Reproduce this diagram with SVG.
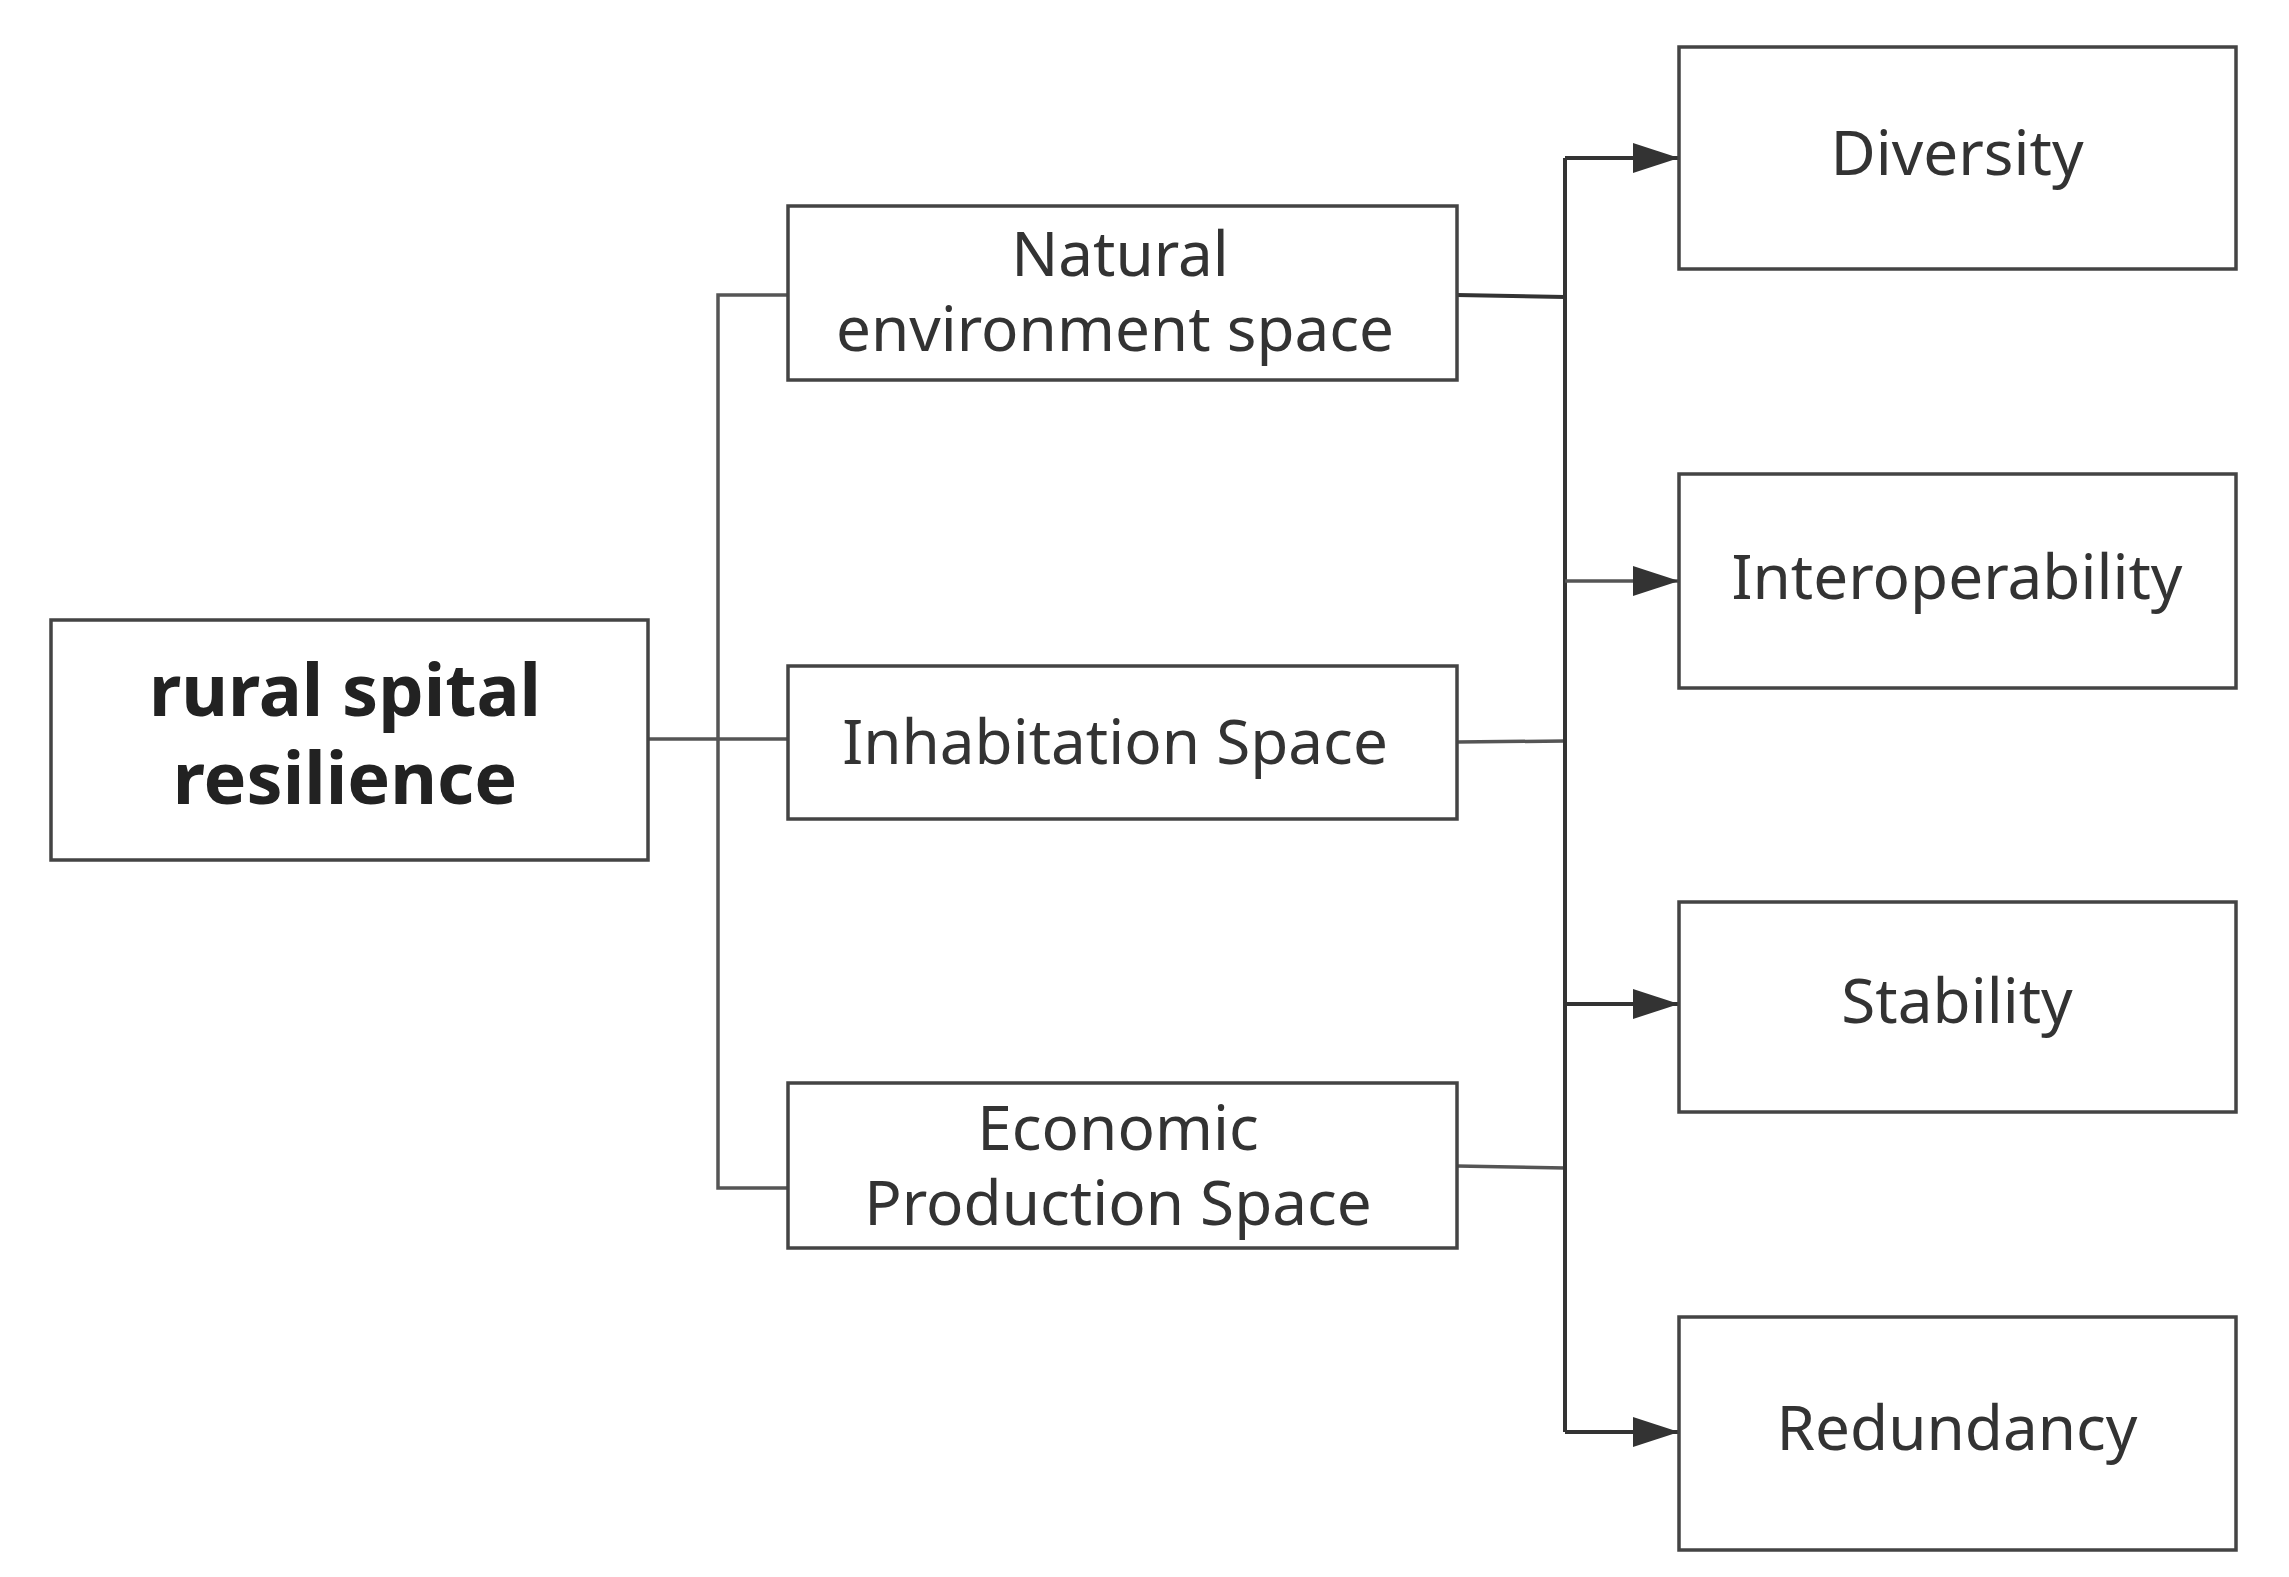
<svg xmlns="http://www.w3.org/2000/svg" width="2289" height="1577" viewBox="0 0 2289 1577">
<style>
.box{fill:#fff;stroke:#444;stroke-width:3.5}
.t{font-family:"Noto Sans","Open Sans",sans-serif;font-size:62px;fill:#333;text-anchor:middle}
.b{font-weight:bold;fill:#222;font-size:72px}
.c{fill:none;stroke:#555;stroke-width:3.5}
.c2{fill:none;stroke:#333;stroke-width:4}
</style>
<defs>
<marker id="arw" markerWidth="46" markerHeight="30" refX="46" refY="15" orient="auto" markerUnits="userSpaceOnUse" viewBox="0 0 46 30">
<path d="M0,0 L46,15 L0,30 z" fill="#333"/>
</marker>
</defs>
<g id="connectors">
<path class="c" d="M648,739 L788,739"/>
<path class="c" d="M788,295 L718,295 L718,1188 L788,1188"/>
<path class="c2" d="M1457,295 L1565,297"/>
<path class="c" d="M1457,742 L1565,741"/>
<path class="c" d="M1457,1166 L1565,1168"/>
<path class="c2" d="M1565,158 L1565,1432"/>
<path class="c2" d="M1565,158 L1679,158" marker-end="url(#arw)"/>
<path class="c" d="M1565,581 L1679,581" marker-end="url(#arw)"/>
<path class="c2" d="M1565,1004 L1679,1004" marker-end="url(#arw)"/>
<path class="c2" d="M1565,1432 L1679,1432" marker-end="url(#arw)"/>
</g>
<g id="root">
<rect class="box" x="51" y="620" width="597" height="240"/>
<text class="t b" x="345" y="716">rural spital</text>
<text class="t b" x="345" y="804">resilience</text>
</g>
<g id="natural">
<rect class="box" x="788" y="206" width="669" height="174"/>
<text class="t" x="1120" y="276">Natural</text>
<text class="t" x="1115" y="351">environment space</text>
</g>
<g id="inhabitation">
<rect class="box" x="788" y="666" width="669" height="153"/>
<text class="t" x="1115" y="764">Inhabitation Space</text>
</g>
<g id="economic">
<rect class="box" x="788" y="1083" width="669" height="165"/>
<text class="t" x="1118" y="1150">Economic</text>
<text class="t" x="1118" y="1225">Production Space</text>
</g>
<g id="diversity">
<rect class="box" x="1679" y="47" width="557" height="222"/>
<text class="t" x="1957" y="175">Diversity</text>
</g>
<g id="interoperability">
<rect class="box" x="1679" y="474" width="557" height="214"/>
<text class="t" x="1957" y="599">Interoperability</text>
</g>
<g id="stability">
<rect class="box" x="1679" y="902" width="557" height="210"/>
<text class="t" x="1957" y="1023">Stability</text>
</g>
<g id="redundancy">
<rect class="box" x="1679" y="1317" width="557" height="233"/>
<text class="t" x="1957" y="1450">Redundancy</text>
</g>
</svg>
